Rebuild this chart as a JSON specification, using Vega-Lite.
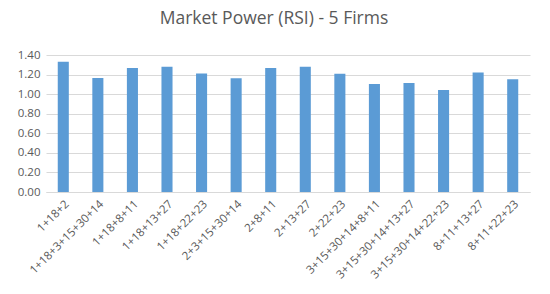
{
  "$schema": "https://vega.github.io/schema/vega-lite/v6.json",
  "autosize": {"type": "none"},
  "width": 484,
  "height": 137,
  "padding": {"left": 46, "top": 55, "right": 20, "bottom": 102},
  "background": "white",
  "title": {
    "text": "Market Power (RSI) - 5 Firms",
    "font": "Open Sans",
    "fontSize": 17.5,
    "fontWeight": "normal",
    "color": "#595959",
    "anchor": "middle",
    "dx": -14,
    "offset": 22
  },
  "data": {
    "values": [
      {"combo": "1+18+2", "rsi": 1.33},
      {"combo": "1+18+3+15+30+14", "rsi": 1.165},
      {"combo": "1+18+8+11", "rsi": 1.267},
      {"combo": "1+18+13+27", "rsi": 1.28},
      {"combo": "1+18+22+23", "rsi": 1.21},
      {"combo": "2+3+15+30+14", "rsi": 1.162},
      {"combo": "2+8+11", "rsi": 1.267},
      {"combo": "2+13+27", "rsi": 1.28},
      {"combo": "2+22+23", "rsi": 1.209},
      {"combo": "3+15+30+14+8+11", "rsi": 1.104},
      {"combo": "3+15+30+14+13+27", "rsi": 1.114},
      {"combo": "3+15+30+14+22+23", "rsi": 1.042},
      {"combo": "8+11+13+27", "rsi": 1.222},
      {"combo": "8+11+22+23", "rsi": 1.151}
    ]
  },
  "mark": {"type": "bar", "color": "#5b9bd5"},
  "encoding": {
    "x": {
      "field": "combo",
      "type": "nominal",
      "sort": null,
      "scale": {"paddingInner": 0.68, "paddingOuter": 0.34},
      "axis": {
        "title": null,
        "labelAngle": -45,
        "labelFont": "Open Sans",
        "labelFontSize": 11.5,
        "labelColor": "#595959",
        "ticks": false,
        "domainColor": "#d9d9d9",
        "labelPadding": 6
      }
    },
    "y": {
      "field": "rsi",
      "type": "quantitative",
      "scale": {"domain": [0, 1.4], "nice": false},
      "axis": {
        "title": null,
        "values": [0, 0.2, 0.4, 0.6, 0.8, 1.0, 1.2, 1.4],
        "format": ".2f",
        "labelFont": "Open Sans",
        "labelFontSize": 11.5,
        "labelColor": "#595959",
        "domain": false,
        "ticks": false,
        "gridColor": "#d9d9d9",
        "labelPadding": 6
      }
    }
  },
  "config": {"view": {"stroke": null}}
}
